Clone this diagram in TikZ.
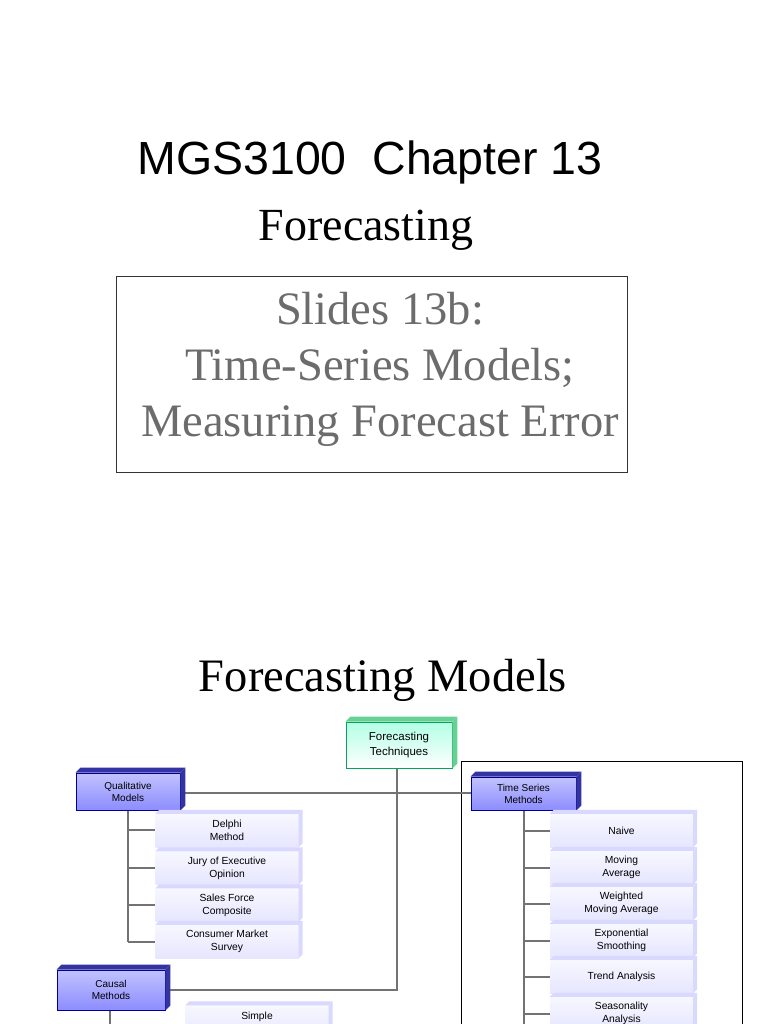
\documentclass[tikz,border=0pt]{standalone}
\usepackage{fontspec}
\setmainfont{Liberation Serif}
\newfontfamily\arial{Liberation Sans}
\usetikzlibrary{calc}
\begin{document}
\begin{tikzpicture}[x=1pt,y=-1pt,
 conn/.style={draw=gray!90!black,line width=2.6pt},
 mainbox/.style={draw=blue!60!black,line width=0.8pt,top color=white!20!blue!30,bottom color=blue!45!white,font=\arial\fontsize{10}{12}\selectfont,align=center,inner sep=0pt},
 ftbox/.style={draw=teal!70!green,line width=0.8pt,top color=green!35!cyan!30,bottom color=white,font=\arial\fontsize{11.5}{14.5}\selectfont,align=center,inner sep=0pt},
 subbox/.style={fill=blue!6,top color=blue!3,bottom color=blue!10,font=\arial\fontsize{10.3}{13}\selectfont,align=center,inner sep=0pt,minimum width=143pt,minimum height=33pt}]
\newcommand\faces[3]{%
 \fill[#3] (#1.north west) -- ++(#2,-#2) -- ($(#1.north east)+(#2,-#2)$) -- (#1.north east) -- cycle;
 \fill[#3] (#1.north east) -- ++(#2,-#2) -- ($(#1.south east)+(#2,-#2)$) -- (#1.south east) -- cycle;}
\useasboundingbox[fill=white] (0,0) rectangle (768,1024);
\node[font=\arial\fontsize{46.5}{50}\selectfont] (title) at (370,162) {MGS3100\ \ Chapter 13};
\node[font=\fontsize{46}{50}\selectfont] (sub) at (366,230) {Forecasting};
\node[draw=black!80,line width=0.6pt,minimum width=511pt,minimum height=196pt,inner sep=0pt] (frame) at (371.5,374) {};
\node[text=gray!85!black,font=\fontsize{46.5}{56}\selectfont,align=center] (slides) at (380,369) {Slides 13b:\\Time-Series Models;\\Measuring Forecast Error};
\node[font=\fontsize{46.5}{50}\selectfont] (fm) at (383,680) {Forecasting Models};
\node[draw=black,line width=0.8pt,minimum width=281pt,minimum height=280pt,inner sep=0pt] (panel) at (601.5,901) {};
% connectors
\coordinate (j1) at (397,793);
\coordinate (j2) at (397,990);
\draw[conn] (397,768) -- (j2) -- (165,990);
\draw[conn] (180,793) -- (471,793);
\draw[conn] (128,810) -- (128,942);
\foreach \y in {830,868,905,942} \draw[conn] (128,\y) -- (156,\y);
\draw[conn] (110,1010) -- (110,1024);
\draw[conn] (524,810) -- (524,1024);
\foreach \y in {831,868,904,941,977,1014} \draw[conn] (524,\y) -- (550,\y);
% main boxes
\node[ftbox,minimum width=106pt,minimum height=46pt] (ft) at (399,745) {Forecasting\\Techniques};
\faces{ft}{5}{teal!60!green!60}
\node[mainbox,minimum width=104pt,minimum height=37pt] (qm) at (128,791.5) {Qualitative\\Models};
\faces{qm}{5}{blue!55!black!80}
\node[mainbox,minimum width=108pt,minimum height=40pt] (cm) at (111,990) {Causal\\Methods};
\faces{cm}{5}{blue!55!black!80}
\node[mainbox,minimum width=105pt,minimum height=33pt] (ts) at (523.5,793.5) {Time Series\\Methods};
\faces{ts}{5}{blue!55!black!80}
% sub boxes
\node[subbox] (d1) at (227,830.5) {Delphi\\Method};
\node[subbox] (d2) at (227,868) {Jury of Executive\\Opinion};
\node[subbox] (d3) at (227,905) {Sales Force\\Composite};
\node[subbox] (d4) at (227,941.5) {Consumer Market\\Survey};
\node[subbox,text depth=13pt] (c1) at (257,1022) {Simple};
\node[subbox] (t1) at (621.5,830.5) {Naive};
\node[subbox] (t2) at (621.5,867.5) {Moving\\Average};
\node[subbox] (t3) at (621.5,903.5) {Weighted\\Moving Average};
\node[subbox] (t4) at (621.5,940.5) {Exponential\\Smoothing};
\node[subbox] (t5) at (621.5,976.5) {Trend Analysis};
\node[subbox] (t6) at (621.5,1013.5) {Seasonality\\Analysis};
\foreach \n in {d1,d2,d3,d4,c1,t1,t2,t3,t4,t5,t6} {\faces{\n}{4}{blue!15}}
\end{tikzpicture}
\end{document}
